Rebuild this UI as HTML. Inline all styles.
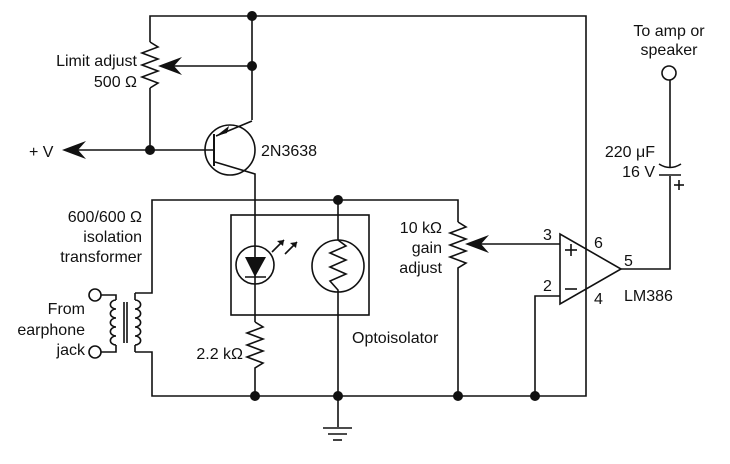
<!DOCTYPE html>
<html><head><style>body{margin:0;background:#fff}svg{display:block}text{font-family:"Liberation Sans",sans-serif;font-size:16px;fill:#111}.e{text-anchor:end}</style></head><body>
<svg width="730" height="464" viewBox="0 0 730 464" xmlns="http://www.w3.org/2000/svg">
<g stroke="#111" stroke-width="1.6" fill="none">
<polyline points="150,42 150,16 586,16 586,396 152,396 152,352 135,352"/>
<polyline points="150,88 150,150 214,150"/>
<polyline points="150,42 158,47 142,53 158,59 142,65 158,71 142,77 158,83 150,88"/>
<line x1="252" y1="16" x2="252" y2="120"/>
<line x1="252" y1="66" x2="165" y2="66"/>
<line x1="150" y1="150" x2="75" y2="150"/>
<circle cx="230" cy="150" r="25"/>
<line x1="214" y1="134" x2="214" y2="166" stroke-width="2"/>
<line x1="252" y1="121" x2="216" y2="136"/>
<polyline points="215,162 255,174 255,322"/>
<polyline points="255,322 263,327 247,333 263,339 247,345 263,351 247,357 263,363 255,368 255,396"/>
<polyline points="135,293 152,293 152,200 458,200 458,222"/>
<rect x="231" y="215" width="138" height="100"/>
<circle cx="255" cy="265" r="19"/>
<line x1="245" y1="277" x2="266" y2="277"/>
<line x1="338" y1="200" x2="338" y2="240"/>
<circle cx="338" cy="266" r="26"/>
<polyline points="338,240 346,246 330,253 346,260 330,267 346,274 330,281 338,290 338,427"/>
<line x1="323" y1="428" x2="352" y2="428"/>
<line x1="328" y1="434" x2="347" y2="434"/>
<line x1="333" y1="440" x2="342" y2="440"/>
<line x1="272" y1="252" x2="284" y2="240"/><line x1="285" y1="254" x2="297" y2="242"/>
<polyline points="458,222 466,227 450,233 466,239 450,245 466,251 450,257 466,263 458,268 458,396"/>
<line x1="560" y1="244" x2="472" y2="244"/>
<polygon points="560,234 560,304 621,269"/>
<line x1="565" y1="250" x2="577" y2="250"/><line x1="571" y1="244" x2="571" y2="256"/>
<line x1="565" y1="289" x2="577" y2="289"/>
<polyline points="560,296 535,296 535,396"/>
<polyline points="621,269 670,269 670,176"/>
<line x1="659" y1="175" x2="681" y2="175"/>
<path d="M659,164 Q670,171 681,164"/>
<polyline points="670,168 670,80"/>
<circle cx="669" cy="73" r="7"/>
<line x1="674" y1="185" x2="684" y2="185"/><line x1="679" y1="180" x2="679" y2="190"/>
<circle cx="95" cy="295" r="6"/><circle cx="95" cy="352" r="6"/>
<polyline points="101,295 116,295 116,300"/>
<path d="M116,300 a5,4 0 0 0 0,9 a5,4 0 0 0 0,9 a5,4 0 0 0 0,9 a5,4 0 0 0 0,9 a5,4 0 0 0 0,9"/>
<polyline points="116,345 116,352 101,352"/>
<polyline points="135,293 135,300"/>
<path d="M135,300 a5,4 0 0 1 0,9 a5,4 0 0 1 0,9 a5,4 0 0 1 0,9 a5,4 0 0 1 0,9 a5,4 0 0 1 0,9"/>
<polyline points="135,345 135,352"/>
<line x1="124" y1="302" x2="124" y2="343"/><line x1="127" y1="302" x2="127" y2="343"/>
</g>
<g fill="#111">
<polygon points="158,66 182,57 174,66 182,75"/>
<polygon points="62,150 86,141 78,150 86,159"/>
<polygon points="465,244 489,235 481,244 489,253"/>
<polygon points="216,136 229,126 227,133"/>
<polygon points="245,257 266,257 255,277"/>
<polygon points="284,240 277,241 283,246"/><polygon points="297,242 290,243 296,248"/>
<circle cx="252" cy="16" r="5"/><circle cx="252" cy="66" r="5"/><circle cx="150" cy="150" r="5"/>
<circle cx="338" cy="200" r="5"/><circle cx="255" cy="396" r="5"/><circle cx="338" cy="396" r="5"/>
<circle cx="458" cy="396" r="5"/><circle cx="535" cy="396" r="5"/>
</g>
<text class="e" x="137" y="66">Limit adjust</text>
<text class="e" x="137" y="87">500 Ω</text>
<text x="29" y="157">+ V</text>
<text x="261" y="156">2N3638</text>
<text class="e" x="142" y="222">600/600 Ω</text>
<text class="e" x="142" y="242">isolation</text>
<text class="e" x="142" y="262">transformer</text>
<text class="e" x="85" y="314">From</text>
<text class="e" x="85" y="335">earphone</text>
<text class="e" x="85" y="355">jack</text>
<text class="e" x="243" y="359">2.2 kΩ</text>
<text x="352" y="343">Optoisolator</text>
<text class="e" x="442" y="233">10 kΩ</text>
<text class="e" x="442" y="253">gain</text>
<text class="e" x="442" y="273">adjust</text>
<text x="543" y="240">3</text>
<text x="543" y="291">2</text>
<text x="594" y="248">6</text>
<text x="594" y="304">4</text>
<text x="624" y="266">5</text>
<text x="624" y="301">LM386</text>
<text class="e" x="655" y="157">220 μF</text>
<text class="e" x="655" y="177">16 V</text>
<text x="669" y="36" text-anchor="middle">To amp or</text>
<text x="669" y="55" text-anchor="middle">speaker</text>
</svg>
</body></html>
